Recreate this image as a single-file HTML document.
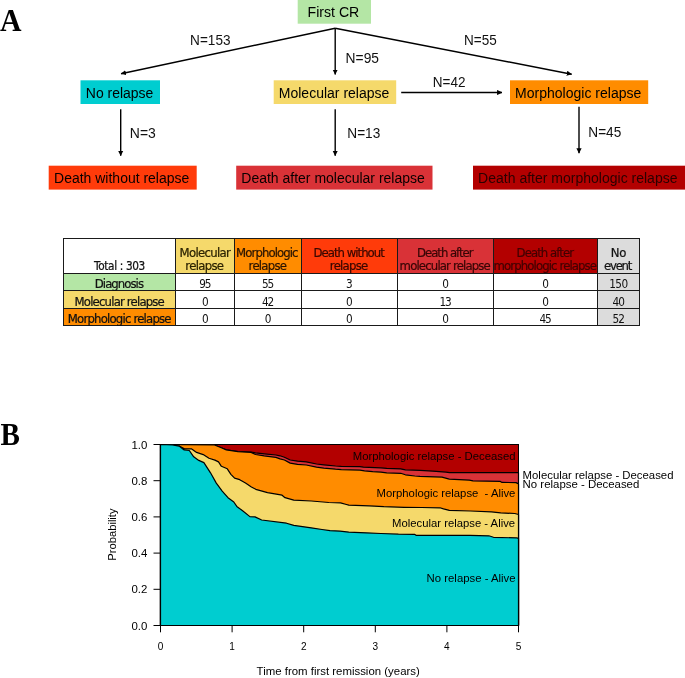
<!DOCTYPE html>
<html lang="en"><head><meta charset="utf-8"><title>Figure</title>
<style>html,body{margin:0;padding:0;background:#fff}svg{display:block}</style></head>
<body>
<svg width="685" height="678" viewBox="0 0 685 678">
<defs><marker id="ah" viewBox="0 0 10 10" refX="9.5" refY="5" markerWidth="5.2" markerHeight="5.6" markerUnits="userSpaceOnUse" orient="auto"><path d="M0,0 L10,5 L0,10 Z" fill="#000"/></marker></defs>
<rect width="685" height="678" fill="#fff"/>
<text x="0" y="30.8" font-size="31.5" font-family="Liberation Serif, Times New Roman, serif" font-weight="bold" fill="#000" textLength="21.5" lengthAdjust="spacingAndGlyphs">A</text>
<text x="0.5" y="444.8" font-size="31.3" font-family="Liberation Serif, Times New Roman, serif" font-weight="bold" fill="#000" textLength="19.4" lengthAdjust="spacingAndGlyphs">B</text>
<rect x="297.7" y="0" width="73.30" height="23.70" fill="#b4e6a5"/>
<rect x="80.5" y="80.3" width="79.50" height="23.70" fill="#00cdd0"/>
<rect x="273.7" y="80.3" width="122.50" height="23.70" fill="#f5d96b"/>
<rect x="510" y="80.3" width="138.20" height="23.70" fill="#ff8c00"/>
<rect x="48.7" y="165.7" width="148.00" height="23.90" fill="#ff3b0a"/>
<rect x="236.2" y="165.7" width="196.30" height="23.90" fill="#d93237"/>
<rect x="473" y="165.7" width="212.00" height="23.90" fill="#b30000"/>
<text x="307.60" y="17.30" font-size="15.2" font-family="Liberation Sans, Arial, sans-serif" fill="#000" textLength="51.70" lengthAdjust="spacingAndGlyphs">First CR</text>
<text x="85.80" y="98.00" font-size="15.2" font-family="Liberation Sans, Arial, sans-serif" fill="#000" textLength="67.50" lengthAdjust="spacingAndGlyphs">No relapse</text>
<text x="278.80" y="98.00" font-size="15.2" font-family="Liberation Sans, Arial, sans-serif" fill="#000" textLength="110.50" lengthAdjust="spacingAndGlyphs">Molecular relapse</text>
<text x="515.10" y="98.00" font-size="15.2" font-family="Liberation Sans, Arial, sans-serif" fill="#000" textLength="126.20" lengthAdjust="spacingAndGlyphs">Morphologic relapse</text>
<text x="54.10" y="183.30" font-size="15.2" font-family="Liberation Sans, Arial, sans-serif" fill="#0a0000" textLength="135.20" lengthAdjust="spacingAndGlyphs">Death without relapse</text>
<text x="241.30" y="183.30" font-size="15.2" font-family="Liberation Sans, Arial, sans-serif" fill="#0a0000" textLength="183.50" lengthAdjust="spacingAndGlyphs">Death after molecular relapse</text>
<text x="478.10" y="183.30" font-size="15.2" font-family="Liberation Sans, Arial, sans-serif" fill="#2b0000" textLength="199.40" lengthAdjust="spacingAndGlyphs">Death after morphologic relapse</text>
<line x1="335.2" y1="28.2" x2="121" y2="73.7" stroke="#000" stroke-width="1.4" marker-end="url(#ah)"/>
<line x1="335.2" y1="28.2" x2="335.2" y2="74.5" stroke="#000" stroke-width="1.4" marker-end="url(#ah)"/>
<line x1="335.2" y1="28.2" x2="571.7" y2="74.2" stroke="#000" stroke-width="1.4" marker-end="url(#ah)"/>
<line x1="401.2" y1="92.5" x2="502" y2="92.5" stroke="#000" stroke-width="1.4" marker-end="url(#ah)"/>
<line x1="120.7" y1="109.2" x2="120.7" y2="155.7" stroke="#000" stroke-width="1.4" marker-end="url(#ah)"/>
<line x1="335.2" y1="109.2" x2="335.2" y2="155.7" stroke="#000" stroke-width="1.4" marker-end="url(#ah)"/>
<line x1="579" y1="106.7" x2="579" y2="153.2" stroke="#000" stroke-width="1.4" marker-end="url(#ah)"/>
<text x="190.10" y="45.00" font-size="15.5" font-family="Liberation Sans, Arial, sans-serif" fill="#111" textLength="40.40" lengthAdjust="spacingAndGlyphs">N=153</text>
<text x="345.60" y="62.50" font-size="15.5" font-family="Liberation Sans, Arial, sans-serif" fill="#111" textLength="33.40" lengthAdjust="spacingAndGlyphs">N=95</text>
<text x="464.10" y="45.00" font-size="15.5" font-family="Liberation Sans, Arial, sans-serif" fill="#111" textLength="32.70" lengthAdjust="spacingAndGlyphs">N=55</text>
<text x="432.80" y="87.00" font-size="15.5" font-family="Liberation Sans, Arial, sans-serif" fill="#111" textLength="32.70" lengthAdjust="spacingAndGlyphs">N=42</text>
<text x="129.80" y="137.50" font-size="15.5" font-family="Liberation Sans, Arial, sans-serif" fill="#111" textLength="26.00" lengthAdjust="spacingAndGlyphs">N=3</text>
<text x="347.30" y="137.50" font-size="15.5" font-family="Liberation Sans, Arial, sans-serif" fill="#111" textLength="33.00" lengthAdjust="spacingAndGlyphs">N=13</text>
<text x="588.30" y="137.20" font-size="15.5" font-family="Liberation Sans, Arial, sans-serif" fill="#111" textLength="33.00" lengthAdjust="spacingAndGlyphs">N=45</text>
<rect x="175.5" y="238.5" width="59.00" height="35.00" fill="#f5d96b"/>
<rect x="234.5" y="238.5" width="67.00" height="35.00" fill="#ff8c00"/>
<rect x="301.5" y="238.5" width="96.00" height="35.00" fill="#ff3b0a"/>
<rect x="397.5" y="238.5" width="96.00" height="35.00" fill="#d93237"/>
<rect x="493.5" y="238.5" width="104.00" height="35.00" fill="#b30000"/>
<rect x="597.5" y="238.5" width="42.00" height="35.00" fill="#dcdcdc"/>
<rect x="63.5" y="273.5" width="112.00" height="17.00" fill="#b4e6a5"/>
<rect x="597.5" y="273.5" width="42.00" height="17.00" fill="#dcdcdc"/>
<rect x="63.5" y="290.5" width="112.00" height="18.00" fill="#f5d96b"/>
<rect x="597.5" y="290.5" width="42.00" height="18.00" fill="#dcdcdc"/>
<rect x="63.5" y="308.5" width="112.00" height="17.00" fill="#ff8c00"/>
<rect x="597.5" y="308.5" width="42.00" height="17.00" fill="#dcdcdc"/>
<line x1="63.5" y1="238.0" x2="63.5" y2="326.0" stroke="#1a1a1a" stroke-width="1"/>
<line x1="175.5" y1="238.0" x2="175.5" y2="326.0" stroke="#1a1a1a" stroke-width="1"/>
<line x1="234.5" y1="238.0" x2="234.5" y2="326.0" stroke="#1a1a1a" stroke-width="1"/>
<line x1="301.5" y1="238.0" x2="301.5" y2="326.0" stroke="#1a1a1a" stroke-width="1"/>
<line x1="397.5" y1="238.0" x2="397.5" y2="326.0" stroke="#1a1a1a" stroke-width="1"/>
<line x1="493.5" y1="238.0" x2="493.5" y2="326.0" stroke="#1a1a1a" stroke-width="1"/>
<line x1="597.5" y1="238.0" x2="597.5" y2="326.0" stroke="#1a1a1a" stroke-width="1"/>
<line x1="639.5" y1="238.0" x2="639.5" y2="326.0" stroke="#1a1a1a" stroke-width="1"/>
<line x1="63.0" y1="238.5" x2="640.0" y2="238.5" stroke="#1a1a1a" stroke-width="1"/>
<line x1="63.0" y1="273.5" x2="640.0" y2="273.5" stroke="#1a1a1a" stroke-width="1"/>
<line x1="63.0" y1="290.5" x2="640.0" y2="290.5" stroke="#1a1a1a" stroke-width="1"/>
<line x1="63.0" y1="308.5" x2="640.0" y2="308.5" stroke="#1a1a1a" stroke-width="1"/>
<line x1="63.0" y1="325.5" x2="640.0" y2="325.5" stroke="#1a1a1a" stroke-width="1"/>
<text x="94.10" y="270.00" font-size="11.7" font-family="DejaVu Sans Condensed, DejaVu Sans, Liberation Sans, sans-serif" fill="#111" textLength="51.20" lengthAdjust="spacing" stroke="#111" stroke-width="0.22">Total : 303</text>
<text x="94.80" y="288.00" font-size="11.7" font-family="DejaVu Sans, Liberation Sans, sans-serif" fill="#111" textLength="49.20" lengthAdjust="spacing" stroke="#111" stroke-width="0.22">Diagnosis</text>
<text x="74.60" y="305.50" font-size="11.7" font-family="DejaVu Sans, Liberation Sans, sans-serif" fill="#111" textLength="90.20" lengthAdjust="spacing" stroke="#111" stroke-width="0.22">Molecular relapse</text>
<text x="67.80" y="323.00" font-size="11.7" font-family="DejaVu Sans, Liberation Sans, sans-serif" fill="#111" textLength="103.70" lengthAdjust="spacing" stroke="#111" stroke-width="0.22">Morphologic relapse</text>
<text x="179.60" y="257.00" font-size="11.7" font-family="DejaVu Sans, Liberation Sans, sans-serif" fill="#2a2200" textLength="51.20" lengthAdjust="spacing" stroke="#2a2200" stroke-width="0.22">Molecular</text>
<text x="185.30" y="270.00" font-size="11.7" font-family="DejaVu Sans, Liberation Sans, sans-serif" fill="#2a2200" textLength="38.70" lengthAdjust="spacing" stroke="#2a2200" stroke-width="0.22">relapse</text>
<text x="236.10" y="257.00" font-size="11.7" font-family="DejaVu Sans, Liberation Sans, sans-serif" fill="#2a1500" textLength="62.40" lengthAdjust="spacing" stroke="#2a1500" stroke-width="0.22">Morphologic</text>
<text x="248.60" y="270.00" font-size="11.7" font-family="DejaVu Sans, Liberation Sans, sans-serif" fill="#2a1500" textLength="38.40" lengthAdjust="spacing" stroke="#2a1500" stroke-width="0.22">relapse</text>
<text x="313.60" y="257.00" font-size="11.7" font-family="DejaVu Sans, Liberation Sans, sans-serif" fill="#380700" textLength="71.20" lengthAdjust="spacing" stroke="#380700" stroke-width="0.22">Death without</text>
<text x="329.80" y="270.00" font-size="11.7" font-family="DejaVu Sans, Liberation Sans, sans-serif" fill="#380700" textLength="38.50" lengthAdjust="spacing" stroke="#380700" stroke-width="0.22">relapse</text>
<text x="417.10" y="257.00" font-size="11.7" font-family="DejaVu Sans, Liberation Sans, sans-serif" fill="#380606" textLength="56.40" lengthAdjust="spacing" stroke="#380606" stroke-width="0.22">Death after</text>
<text x="399.60" y="270.00" font-size="11.7" font-family="DejaVu Sans, Liberation Sans, sans-serif" fill="#380606" textLength="91.20" lengthAdjust="spacing" stroke="#380606" stroke-width="0.22">molecular relapse</text>
<text x="516.60" y="257.00" font-size="11.7" font-family="DejaVu Sans, Liberation Sans, sans-serif" fill="#420000" textLength="57.40" lengthAdjust="spacing" stroke="#420000" stroke-width="0.22">Death after</text>
<text x="493.60" y="270.00" font-size="11.7" font-family="DejaVu Sans, Liberation Sans, sans-serif" fill="#420000" textLength="103.40" lengthAdjust="spacing" stroke="#420000" stroke-width="0.22">morphologic relapse</text>
<text x="610.80" y="257.00" font-size="11.7" font-family="DejaVu Sans, Liberation Sans, sans-serif" fill="#111" textLength="15.70" lengthAdjust="spacing" stroke="#111" stroke-width="0.22">No</text>
<text x="604.10" y="270.00" font-size="11.7" font-family="DejaVu Sans, Liberation Sans, sans-serif" fill="#111" textLength="28.20" lengthAdjust="spacing" stroke="#111" stroke-width="0.22">event</text>
<text x="205.40" y="288.00" font-size="11.7" font-family="DejaVu Sans Condensed, DejaVu Sans, Liberation Sans, sans-serif" fill="#111" text-anchor="middle" textLength="12.30" lengthAdjust="spacing">95</text>
<text x="268.10" y="288.00" font-size="11.7" font-family="DejaVu Sans Condensed, DejaVu Sans, Liberation Sans, sans-serif" fill="#111" text-anchor="middle" textLength="12.30" lengthAdjust="spacing">55</text>
<text x="349.40" y="288.00" font-size="11.7" font-family="DejaVu Sans Condensed, DejaVu Sans, Liberation Sans, sans-serif" fill="#111" text-anchor="middle" textLength="5.80" lengthAdjust="spacing">3</text>
<text x="445.60" y="288.00" font-size="11.7" font-family="DejaVu Sans Condensed, DejaVu Sans, Liberation Sans, sans-serif" fill="#111" text-anchor="middle" textLength="5.80" lengthAdjust="spacing">0</text>
<text x="545.60" y="288.00" font-size="11.7" font-family="DejaVu Sans Condensed, DejaVu Sans, Liberation Sans, sans-serif" fill="#111" text-anchor="middle" textLength="5.80" lengthAdjust="spacing">0</text>
<text x="618.70" y="288.00" font-size="11.7" font-family="DejaVu Sans Condensed, DejaVu Sans, Liberation Sans, sans-serif" fill="#111" text-anchor="middle" textLength="18.80" lengthAdjust="spacing">150</text>
<text x="205.40" y="305.50" font-size="11.7" font-family="DejaVu Sans Condensed, DejaVu Sans, Liberation Sans, sans-serif" fill="#111" text-anchor="middle" textLength="5.80" lengthAdjust="spacing">0</text>
<text x="268.10" y="305.50" font-size="11.7" font-family="DejaVu Sans Condensed, DejaVu Sans, Liberation Sans, sans-serif" fill="#111" text-anchor="middle" textLength="12.30" lengthAdjust="spacing">42</text>
<text x="349.40" y="305.50" font-size="11.7" font-family="DejaVu Sans Condensed, DejaVu Sans, Liberation Sans, sans-serif" fill="#111" text-anchor="middle" textLength="5.80" lengthAdjust="spacing">0</text>
<text x="445.60" y="305.50" font-size="11.7" font-family="DejaVu Sans Condensed, DejaVu Sans, Liberation Sans, sans-serif" fill="#111" text-anchor="middle" textLength="12.30" lengthAdjust="spacing">13</text>
<text x="545.60" y="305.50" font-size="11.7" font-family="DejaVu Sans Condensed, DejaVu Sans, Liberation Sans, sans-serif" fill="#111" text-anchor="middle" textLength="5.80" lengthAdjust="spacing">0</text>
<text x="618.70" y="305.50" font-size="11.7" font-family="DejaVu Sans Condensed, DejaVu Sans, Liberation Sans, sans-serif" fill="#111" text-anchor="middle" textLength="12.30" lengthAdjust="spacing">40</text>
<text x="205.40" y="323.00" font-size="11.7" font-family="DejaVu Sans Condensed, DejaVu Sans, Liberation Sans, sans-serif" fill="#111" text-anchor="middle" textLength="5.80" lengthAdjust="spacing">0</text>
<text x="268.10" y="323.00" font-size="11.7" font-family="DejaVu Sans Condensed, DejaVu Sans, Liberation Sans, sans-serif" fill="#111" text-anchor="middle" textLength="5.80" lengthAdjust="spacing">0</text>
<text x="349.40" y="323.00" font-size="11.7" font-family="DejaVu Sans Condensed, DejaVu Sans, Liberation Sans, sans-serif" fill="#111" text-anchor="middle" textLength="5.80" lengthAdjust="spacing">0</text>
<text x="445.60" y="323.00" font-size="11.7" font-family="DejaVu Sans Condensed, DejaVu Sans, Liberation Sans, sans-serif" fill="#111" text-anchor="middle" textLength="5.80" lengthAdjust="spacing">0</text>
<text x="545.60" y="323.00" font-size="11.7" font-family="DejaVu Sans Condensed, DejaVu Sans, Liberation Sans, sans-serif" fill="#111" text-anchor="middle" textLength="12.30" lengthAdjust="spacing">45</text>
<text x="618.70" y="323.00" font-size="11.7" font-family="DejaVu Sans Condensed, DejaVu Sans, Liberation Sans, sans-serif" fill="#111" text-anchor="middle" textLength="12.30" lengthAdjust="spacing">52</text>
<rect x="160.5" y="444.5" width="358.00" height="181.00" fill="#b30000" stroke="#000" stroke-width="1"/>
<polygon points="160.5,444.5 213.9,444.8 221.9,448.0 226.3,449.9 238.0,451.7 251.1,452.0 255.5,452.8 264.2,453.8 275.9,455.0 280.0,455.8 284.4,457.2 290.2,460.0 297.5,461.2 306.3,461.9 316.5,464.0 323.8,464.8 335.5,466.0 341.3,466.3 359.9,466.6 363.4,467.2 380.9,467.8 386.7,468.4 400.7,468.9 405.4,469.8 420.0,470.3 432.8,471.2 445.9,472.1 449.6,472.6 518.5,472.6 518.5,625.5 160.5,625.5" fill="#d93237" stroke="#000" stroke-width="1.2" stroke-linejoin="round"/>
<polygon points="160.5,444.5 213.9,444.8 221.9,448.0 226.3,449.9 238.0,451.7 251.1,452.4 255.5,454.5 264.2,455.9 275.9,457.4 280.0,458.9 284.4,460.0 290.2,463.1 297.5,464.3 306.3,465.0 316.5,467.1 323.8,468.1 335.5,469.2 341.3,469.6 359.9,470.1 364.5,470.9 372.7,471.6 380.9,472.1 386.7,472.8 400.7,473.3 405.4,474.8 414.8,476.0 420.0,476.4 442.0,477.1 449.3,479.1 469.3,480.2 473.0,480.9 500.4,481.4 502.0,482.4 516.0,482.6 518.5,483.9 518.5,625.5 160.5,625.5" fill="#ff8c00" stroke="#000" stroke-width="1.2" stroke-linejoin="round"/>
<polygon points="160.5,444.5 172.5,444.8 179.1,446.0 184.4,448.9 191.7,448.9 196.6,452.4 203.2,454.6 209.0,458.2 214.9,460.1 218.5,461.9 221.4,466.3 227.3,468.8 230.9,474.3 234.6,478.2 239.7,479.7 245.5,483.1 251.4,487.0 255.8,489.3 267.5,492.6 282.1,495.2 285.0,497.7 293.8,500.1 311.3,501.0 328.8,502.5 340.5,502.8 346.4,504.5 348.8,505.2 369.2,505.8 383.8,506.7 404.2,507.3 421.8,507.5 440.0,507.8 443.5,508.9 449.3,510.3 470.4,511.0 491.4,511.8 500.7,512.9 514.8,513.5 518.5,514.5 518.5,625.5 160.5,625.5" fill="#f5d96b" stroke="#000" stroke-width="1.2" stroke-linejoin="round"/>
<polygon points="160.5,444.5 172.5,444.8 179.1,446.1 184.2,449.9 189.3,450.5 193.7,456.8 198.8,460.4 203.9,462.6 210.5,472.8 216.3,483.1 222.2,491.1 228.0,497.7 233.8,502.0 236.8,506.4 242.6,510.8 249.9,516.6 255.0,516.9 261.7,520.0 286.5,523.2 293.8,525.4 311.3,527.8 322.0,529.5 330.0,530.6 340.0,531.1 348.8,532.1 366.3,532.8 380.9,533.5 398.4,534.2 414.5,534.3 416.0,535.3 470.0,535.4 488.8,535.8 493.5,537.3 516.7,537.9 518.5,538.3 518.5,625.5 160.5,625.5" fill="#00cdd0" stroke="#000" stroke-width="1.2" stroke-linejoin="round"/>
<line x1="160.5" y1="444.5" x2="160.5" y2="625.5" stroke="#000" stroke-width="1"/>
<line x1="160.5" y1="625.5" x2="518.5" y2="625.5" stroke="#000" stroke-width="1"/>
<line x1="153.5" y1="625.50" x2="160.5" y2="625.50" stroke="#000" stroke-width="1"/>
<text x="131.40" y="629.65" font-size="11.6" font-family="Liberation Sans, Arial, sans-serif" fill="#000" textLength="15.90" lengthAdjust="spacingAndGlyphs">0.0</text>
<line x1="153.5" y1="589.30" x2="160.5" y2="589.30" stroke="#000" stroke-width="1"/>
<text x="131.40" y="593.45" font-size="11.6" font-family="Liberation Sans, Arial, sans-serif" fill="#000" textLength="15.90" lengthAdjust="spacingAndGlyphs">0.2</text>
<line x1="153.5" y1="553.10" x2="160.5" y2="553.10" stroke="#000" stroke-width="1"/>
<text x="131.40" y="557.25" font-size="11.6" font-family="Liberation Sans, Arial, sans-serif" fill="#000" textLength="15.90" lengthAdjust="spacingAndGlyphs">0.4</text>
<line x1="153.5" y1="516.90" x2="160.5" y2="516.90" stroke="#000" stroke-width="1"/>
<text x="131.40" y="521.05" font-size="11.6" font-family="Liberation Sans, Arial, sans-serif" fill="#000" textLength="15.90" lengthAdjust="spacingAndGlyphs">0.6</text>
<line x1="153.5" y1="480.70" x2="160.5" y2="480.70" stroke="#000" stroke-width="1"/>
<text x="131.40" y="484.85" font-size="11.6" font-family="Liberation Sans, Arial, sans-serif" fill="#000" textLength="15.90" lengthAdjust="spacingAndGlyphs">0.8</text>
<line x1="153.5" y1="444.50" x2="160.5" y2="444.50" stroke="#000" stroke-width="1"/>
<text x="131.40" y="448.65" font-size="11.6" font-family="Liberation Sans, Arial, sans-serif" fill="#000" textLength="15.90" lengthAdjust="spacingAndGlyphs">1.0</text>
<line x1="160.50" y1="625.5" x2="160.50" y2="632.3" stroke="#000" stroke-width="1"/>
<text x="160.50" y="650.00" font-size="11.6" font-family="Liberation Sans, Arial, sans-serif" fill="#000" text-anchor="middle" textLength="5.60" lengthAdjust="spacingAndGlyphs">0</text>
<line x1="232.10" y1="625.5" x2="232.10" y2="632.3" stroke="#000" stroke-width="1"/>
<text x="232.10" y="650.00" font-size="11.6" font-family="Liberation Sans, Arial, sans-serif" fill="#000" text-anchor="middle" textLength="5.60" lengthAdjust="spacingAndGlyphs">1</text>
<line x1="303.70" y1="625.5" x2="303.70" y2="632.3" stroke="#000" stroke-width="1"/>
<text x="303.70" y="650.00" font-size="11.6" font-family="Liberation Sans, Arial, sans-serif" fill="#000" text-anchor="middle" textLength="5.60" lengthAdjust="spacingAndGlyphs">2</text>
<line x1="375.30" y1="625.5" x2="375.30" y2="632.3" stroke="#000" stroke-width="1"/>
<text x="375.30" y="650.00" font-size="11.6" font-family="Liberation Sans, Arial, sans-serif" fill="#000" text-anchor="middle" textLength="5.60" lengthAdjust="spacingAndGlyphs">3</text>
<line x1="446.90" y1="625.5" x2="446.90" y2="632.3" stroke="#000" stroke-width="1"/>
<text x="446.90" y="650.00" font-size="11.6" font-family="Liberation Sans, Arial, sans-serif" fill="#000" text-anchor="middle" textLength="5.60" lengthAdjust="spacingAndGlyphs">4</text>
<line x1="518.50" y1="625.5" x2="518.50" y2="632.3" stroke="#000" stroke-width="1"/>
<text x="518.50" y="650.00" font-size="11.6" font-family="Liberation Sans, Arial, sans-serif" fill="#000" text-anchor="middle" textLength="5.60" lengthAdjust="spacingAndGlyphs">5</text>
<text x="256.60" y="675.00" font-size="11.6" font-family="Liberation Sans, Arial, sans-serif" fill="#000" textLength="163.20" lengthAdjust="spacingAndGlyphs">Time from first remission (years)</text>
<text transform="translate(116.3,560.8) rotate(-90)" font-size="11.6" font-family="Liberation Sans, Arial, sans-serif" fill="#000" textLength="52.4" lengthAdjust="spacingAndGlyphs">Probability</text>
<text x="352.80" y="460.00" font-size="11.6" font-family="Liberation Sans, Arial, sans-serif" fill="#0a0000" textLength="162.70" lengthAdjust="spacingAndGlyphs">Morphologic relapse - Deceased</text>
<text x="376.60" y="497.00" font-size="11.6" font-family="Liberation Sans, Arial, sans-serif" fill="#000" textLength="138.80" lengthAdjust="spacingAndGlyphs" xml:space="preserve">Morphologic relapse  - Alive</text>
<text x="392.10" y="527.00" font-size="11.6" font-family="Liberation Sans, Arial, sans-serif" fill="#000" textLength="123.00" lengthAdjust="spacingAndGlyphs">Molecular relapse - Alive</text>
<text x="426.60" y="582.00" font-size="11.6" font-family="Liberation Sans, Arial, sans-serif" fill="#000" textLength="89.00" lengthAdjust="spacingAndGlyphs">No relapse - Alive</text>
<text x="522.60" y="478.70" font-size="11.6" font-family="Liberation Sans, Arial, sans-serif" fill="#000" textLength="150.90" lengthAdjust="spacingAndGlyphs">Molecular relapse - Deceased</text>
<text x="522.60" y="487.50" font-size="11.6" font-family="Liberation Sans, Arial, sans-serif" fill="#000" textLength="116.70" lengthAdjust="spacingAndGlyphs">No relapse - Deceased</text>
</svg>
</body></html>
